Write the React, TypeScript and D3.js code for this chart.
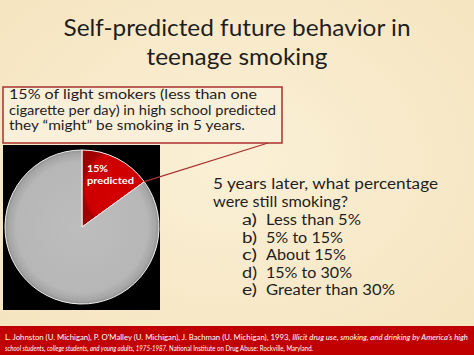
import React from "react";
import * as d3 from "d3";

const W = 474;
const H = 355;

const titleLines = ["Self-predicted future behavior in", "teenage smoking"];
const titleWidths = [347, 181];
const boxLines = [
  "15% of light smokers (less than one",
  "cigarette per day) in high school predicted",
  "they \u201cmight\u201d be smoking in 5 years.",
];
const boxWidths = [248, 267, 236];
const sliceLabels = ["predicted", "not predicted"];
const sliceValues = [15, 85];
const questionLines = ["5 years later, what percentage", "were still smoking?"];
const questionWidths = [225, 135];
const optionKeys = ["a)", "b)", "c)", "d)", "e)"];
const optionTexts = ["Less than 5%", "5% to 15%", "About 15%", "15% to 30%", "Greater than 30%"];
const optionWidths = [95, 77, 80, 86, 129];

const FONT = "Lato, 'Open Sans', sans-serif";
const INK = "#1e1e1e";

export default function App() {
  const cx = 82;
  const cy = 227;
  const r = 77;
  const pie = d3.pie<number>().sort(null).startAngle(0).endAngle(2 * Math.PI);
  const arcs = pie(sliceValues);
  const arc = d3.arc<d3.PieArcDatum<number>>().innerRadius(0).outerRadius(r);
  const endA = arcs[0].endAngle;
  const edgeX = cx + r * Math.sin(endA);
  const edgeY = cy - r * Math.cos(endA);

  return (
    <svg
      width={W}
      height={H}
      style={{ position: "absolute", left: 0, top: 0 }}
      fontFamily={FONT}
    >
      <defs>
        <radialGradient id="bg" cx="50%" cy="45%" r="75%">
          <stop offset="0%" stopColor="#fbf0d6" />
          <stop offset="100%" stopColor="#f4e3bd" />
        </radialGradient>
        <radialGradient id="grey" cx="50%" cy="50%" r="50%">
          <stop offset="0%" stopColor="#bdbdbd" />
          <stop offset="85%" stopColor="#b7b7b7" />
          <stop offset="96%" stopColor="#a5a5a5" />
          <stop offset="100%" stopColor="#8e8e8e" />
        </radialGradient>
        <radialGradient id="red" cx="50%" cy="50%" r="50%">
          <stop offset="0%" stopColor="#d40000" />
          <stop offset="88%" stopColor="#cc0000" />
          <stop offset="100%" stopColor="#a00000" />
        </radialGradient>
      </defs>
      <rect x={0} y={0} width={W} height={H} fill="url(#bg)" />

      {/* Title */}
      {titleLines.map((t, i) => (
        <text
          key={t}
          x={237}
          y={36 + i * 29}
          fontSize={22.5}
          textAnchor="middle"
          fill={INK}
          textLength={titleWidths[i]}
          lengthAdjust="spacingAndGlyphs"
        >
          {t}
        </text>
      ))}

      {/* Black square + pie */}
      <rect x={3} y={145} width={157} height={165} fill="#000" />
      <g transform={`translate(${cx},${cy})`}>
        {arcs.map((a, i) => (
          <path
            key={sliceLabels[i]}
            d={arc(a) || ""}
            fill={i === 0 ? "url(#red)" : "url(#grey)"}
            stroke="#f2f2f2"
            strokeWidth={1}
          />
        ))}
      </g>
      <text x={87} y={172} fontSize={10.2} fontWeight="bold" fill="#fff" textLength={21} lengthAdjust="spacingAndGlyphs">
        {`${sliceValues[0]}%`}
      </text>
      <text x={87} y={184.3} fontSize={10.2} fontWeight="bold" fill="#fff" textLength={47} lengthAdjust="spacingAndGlyphs">
        {sliceLabels[0]}
      </text>

      {/* Callout box */}
      <rect x={3} y={87} width={279} height={56} fill="#faf0da" stroke="#a8322f" strokeWidth={1.5} />
      <line x1={268} y1={143} x2={edgeX} y2={edgeY} stroke="#a8322f" strokeWidth={1.3} />
      {boxLines.map((t, i) => (
        <text
          key={i}
          x={9}
          y={99 + i * 15.5}
          fontSize={12.8}
          fill={INK}
          textLength={boxWidths[i]}
          lengthAdjust="spacingAndGlyphs"
        >
          {t}
        </text>
      ))}

      {/* Question */}
      {questionLines.map((t, i) => (
        <text
          key={i}
          x={213}
          y={189 + i * 17.8}
          fontSize={14.6}
          fill={INK}
          textLength={questionWidths[i]}
          lengthAdjust="spacingAndGlyphs"
        >
          {t}
        </text>
      ))}
      {optionKeys.map((k, i) => (
        <g key={k}>
          <text x={242} y={225 + i * 17.6} fontSize={14.6} fill={INK} textLength={15} lengthAdjust="spacingAndGlyphs">
            {k}
          </text>
          <text
            x={266}
            y={225 + i * 17.6}
            fontSize={14.6}
            fill={INK}
            textLength={optionWidths[i]}
            lengthAdjust="spacingAndGlyphs"
          >
            {optionTexts[i]}
          </text>
        </g>
      ))}

      {/* Footer */}
      <rect x={0} y={326} width={W} height={H - 326} fill="#c00000" />
      <text x={5} y={339.5} fontSize={6.6} fill="#fff" textLength={463} lengthAdjust="spacingAndGlyphs">
        L. Johnston (U. Michigan), P. O'Malley (U. Michigan), J. Bachman (U. Michigan), 1993,{" "}
        <tspan fontStyle="italic">Illicit drug use, smoking, and drinking by America's  high</tspan>
      </text>
      <text x={5} y={350.5} fontSize={6.6} fill="#fff" textLength={308} lengthAdjust="spacingAndGlyphs">
        <tspan fontStyle="italic">school students, college students, and young adults, 1975-1987.</tspan> National Institute on Drug Abuse: Rockville, Maryland.
      </text>
    </svg>
  );
}
